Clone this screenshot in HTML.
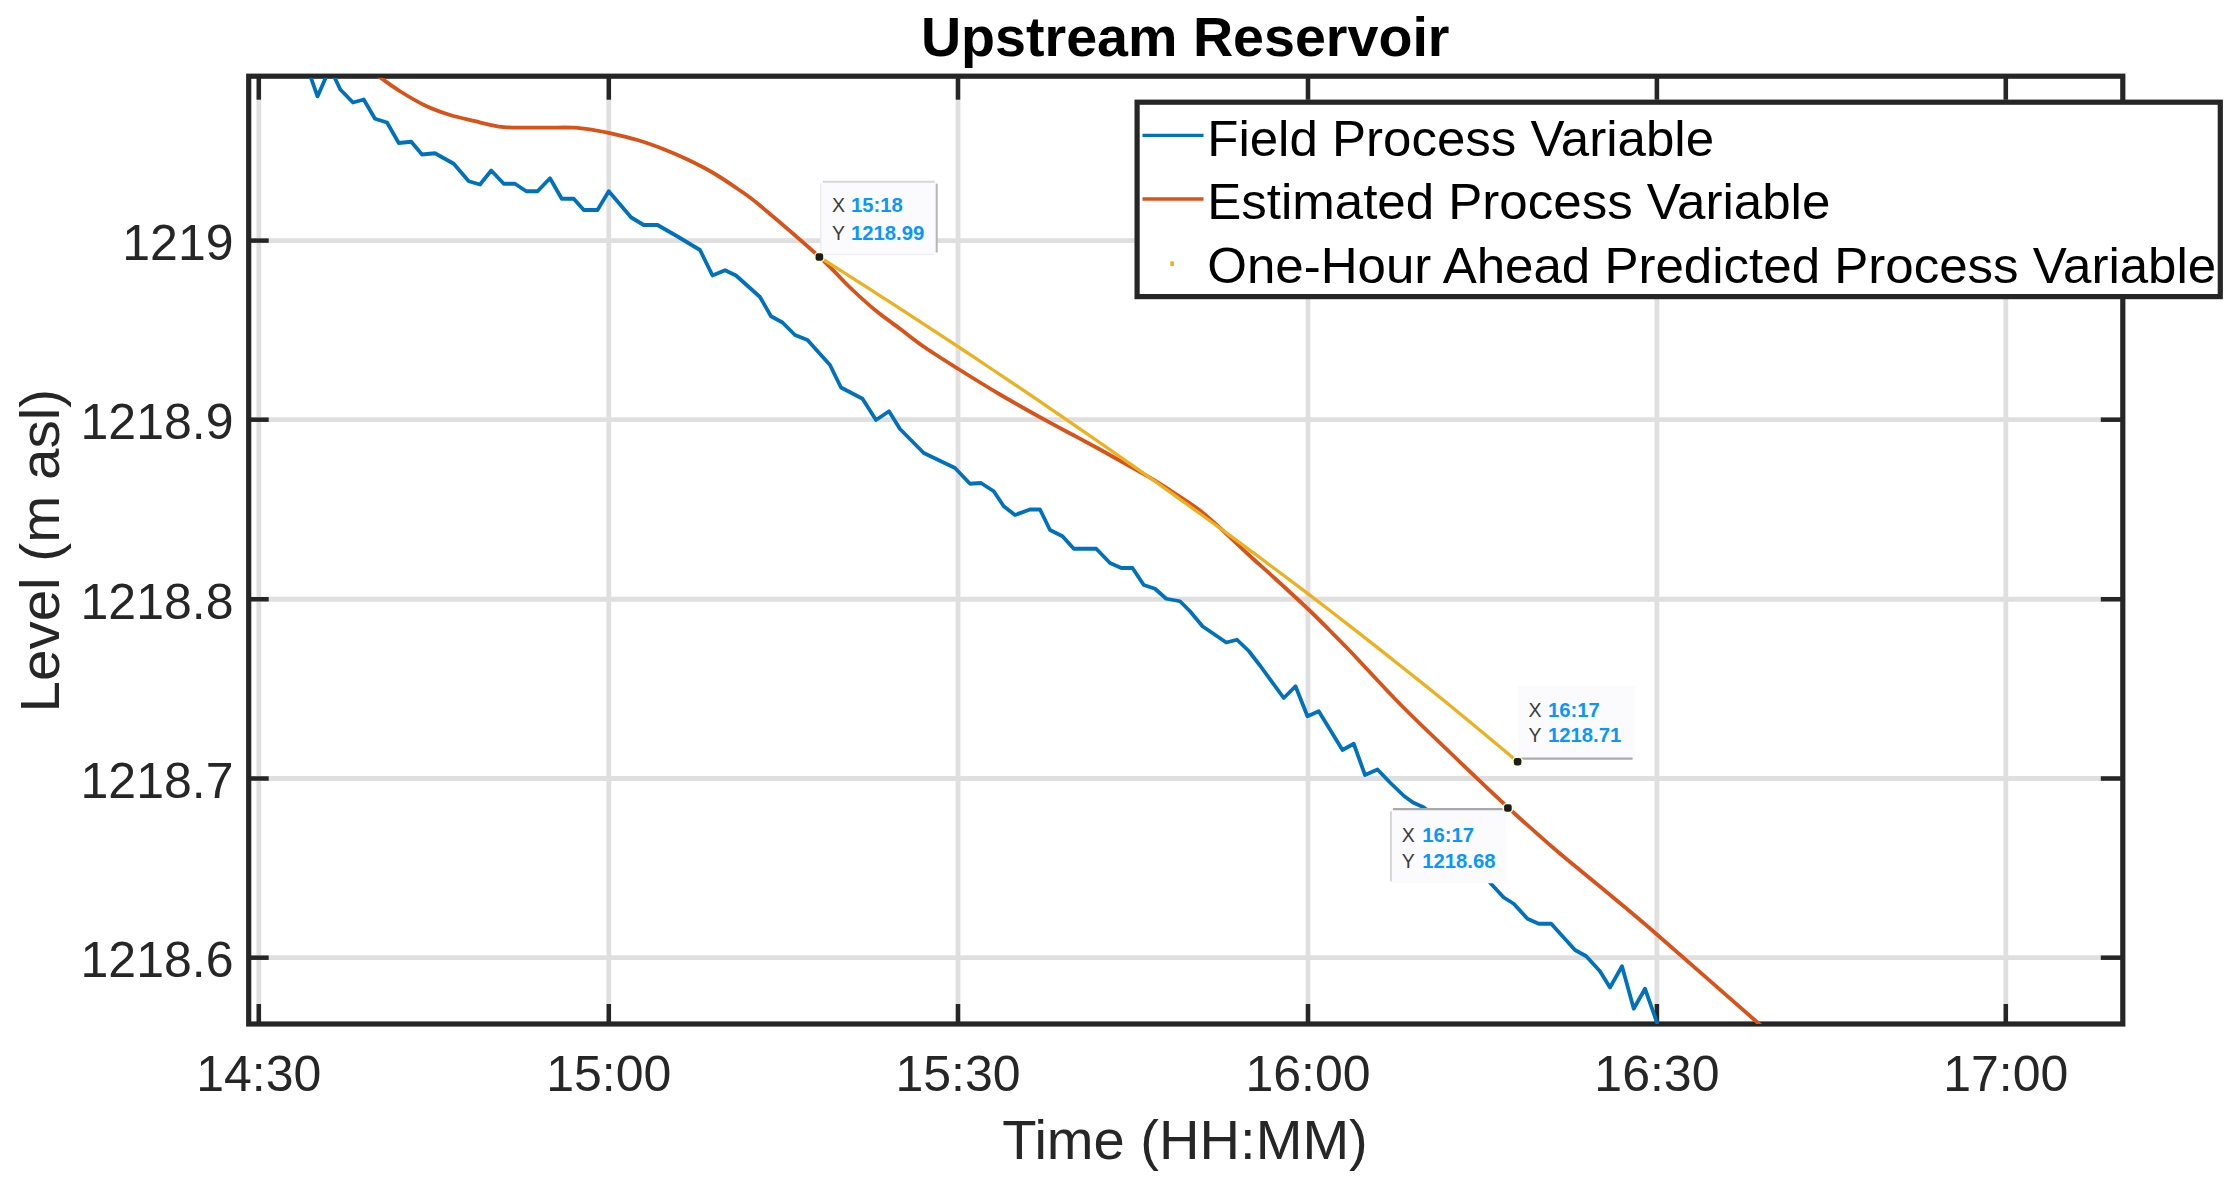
<!DOCTYPE html>
<html><head><meta charset="utf-8"><title>Upstream Reservoir</title>
<style>
html,body{margin:0;padding:0;background:#fff;overflow:hidden;}
svg{display:block;}
text{font-family:"Liberation Sans",Arial,Helvetica,sans-serif;}
.tk{font-size:50px;fill:#262626;}
.lb{font-size:55px;fill:#262626;}
.lg{font-size:50px;fill:#000;}
.tx{font-size:19.5px;fill:#3c3c3c;}
.tv{font-size:20.3px;fill:#0a96ff;font-weight:bold;}
</style></head><body>
<svg width="2240" height="1196" viewBox="0 0 2240 1196">
<rect width="2240" height="1196" fill="#fff"/>
<defs><clipPath id="ax"><rect x="248.7" y="77.8" width="1874.1" height="946.2"/></clipPath></defs>
<g stroke="#dfdfdf" stroke-width="4.8">
<line x1="258.8" y1="76.2" x2="258.8" y2="1024"/>
<line x1="608.8" y1="76.2" x2="608.8" y2="1024"/>
<line x1="958" y1="76.2" x2="958" y2="1024"/>
<line x1="1308" y1="76.2" x2="1308" y2="1024"/>
<line x1="1656.9" y1="76.2" x2="1656.9" y2="1024"/>
<line x1="2005.8" y1="76.2" x2="2005.8" y2="1024"/>
<line x1="248.7" y1="240.6" x2="2122.8" y2="240.6"/>
<line x1="248.7" y1="419.7" x2="2122.8" y2="419.7"/>
<line x1="248.7" y1="599.25" x2="2122.8" y2="599.25"/>
<line x1="248.7" y1="778.5" x2="2122.8" y2="778.5"/>
<line x1="248.7" y1="957.7" x2="2122.8" y2="957.7"/>
</g>
<g stroke="#262626" stroke-width="5.2" fill="none">
<rect x="248.7" y="76.2" width="1874.1" height="947.8"/>
</g><g stroke="#262626" stroke-width="4.5">
<line x1="258.8" y1="76.2" x2="258.8" y2="99.7"/>
<line x1="258.8" y1="1024" x2="258.8" y2="1004"/>
<line x1="608.8" y1="76.2" x2="608.8" y2="99.7"/>
<line x1="608.8" y1="1024" x2="608.8" y2="1004"/>
<line x1="958" y1="76.2" x2="958" y2="99.7"/>
<line x1="958" y1="1024" x2="958" y2="1004"/>
<line x1="1308" y1="76.2" x2="1308" y2="99.7"/>
<line x1="1308" y1="1024" x2="1308" y2="1004"/>
<line x1="1656.9" y1="76.2" x2="1656.9" y2="99.7"/>
<line x1="1656.9" y1="1024" x2="1656.9" y2="1004"/>
<line x1="2005.8" y1="76.2" x2="2005.8" y2="99.7"/>
<line x1="2005.8" y1="1024" x2="2005.8" y2="1004"/>
<line x1="248.7" y1="240.6" x2="268.7" y2="240.6"/>
<line x1="2122.8" y1="240.6" x2="2100.8" y2="240.6"/>
<line x1="248.7" y1="419.7" x2="268.7" y2="419.7"/>
<line x1="2122.8" y1="419.7" x2="2100.8" y2="419.7"/>
<line x1="248.7" y1="599.25" x2="268.7" y2="599.25"/>
<line x1="2122.8" y1="599.25" x2="2100.8" y2="599.25"/>
<line x1="248.7" y1="778.5" x2="268.7" y2="778.5"/>
<line x1="2122.8" y1="778.5" x2="2100.8" y2="778.5"/>
<line x1="248.7" y1="957.7" x2="268.7" y2="957.7"/>
<line x1="2122.8" y1="957.7" x2="2100.8" y2="957.7"/>
</g>
<g clip-path="url(#ax)" fill="none" stroke-linejoin="round" stroke-linecap="round">
<polyline stroke="#0072bd" stroke-width="3.8" points="308.2,70 317.5,96.4 326.5,76 330.5,68 334.7,77.6 340.3,89.5 353,102.5 363.75,99.5 375,118.75 387,122.5 398.75,143 411.25,141.75 422,154.5 435,153.25 453.75,163.75 468.75,181.25 480,184.5 491.25,170.5 503.75,183.75 515,183.75 526.25,191.25 537.5,191.25 550,178.25 561.75,198.75 573.75,198.75 583.75,210 597.5,210 608.75,191.25 631.25,217.5 643.75,225 657.5,225 675,235 700,250 712.5,275.5 725,270.25 736,275.5 760,297 771,316.25 782.5,322.5 795,335 807.5,340 830,365 841,387.5 862.5,398.75 876,420 889,411.25 900,429 923.75,453 955,468 970,483.75 981,483 993.75,491.25 1003.75,506.25 1015,515 1030,509.5 1040,509.5 1050,530 1062.5,536.25 1073.75,548.75 1096.25,548.75 1110,563 1121.25,568 1132.5,568 1143.75,585 1155,588.75 1166.25,598.75 1180,601.25 1190,611.25 1202.5,626.25 1226.25,642.5 1237,639.75 1248.75,651 1260,665.5 1283.75,698 1295.5,686.25 1307.5,716.25 1318.75,711.25 1342.5,750 1353.75,743.75 1365,775 1377.5,769.5 1390,782.5 1404,796 1413,802.5 1423.5,807.3 1438,819 1460,845 1480,870 1491.25,884 1503.75,897.5 1513.75,903.75 1527.5,918.75 1538.75,923.75 1551.25,923.75 1575,950 1586.25,956.25 1600,971.25 1610,987.5 1622,966.25 1633.75,1008.75 1645,988.75 1657,1022.5"/>
<path stroke="#d95319" stroke-width="3.8" d="M370.00,71.00 C371.67,72.08 375.00,74.12 380.00,77.50 C385.00,80.88 392.50,86.58 400.00,91.25 C407.50,95.92 416.67,101.54 425.00,105.50 C433.33,109.46 441.67,112.38 450.00,115.00 C458.33,117.62 468.33,119.57 475.00,121.20 C481.67,122.83 485.17,123.80 490.00,124.80 C494.83,125.80 498.17,126.72 504.00,127.20 C509.83,127.68 517.33,127.63 525.00,127.70 C532.67,127.77 541.83,127.60 550.00,127.60 C558.17,127.60 566.70,127.28 574.00,127.70 C581.30,128.12 588.03,129.25 593.80,130.10 C599.57,130.95 601.32,131.15 608.60,132.80 C615.88,134.45 628.52,137.34 637.50,140.00 C646.48,142.66 654.17,145.50 662.50,148.75 C670.83,152.00 679.17,155.54 687.50,159.50 C695.83,163.46 704.17,167.62 712.50,172.50 C720.83,177.38 729.58,183.25 737.50,188.75 C745.42,194.25 746.33,194.12 760.00,205.50 C773.67,216.88 804.50,243.33 819.50,257.00 C834.50,270.67 840.75,278.67 850.00,287.50 C859.25,296.33 866.67,303.12 875.00,310.00 C883.33,316.88 891.67,322.50 900.00,328.75 C908.33,335.00 915.33,340.83 925.00,347.50 C934.67,354.17 945.50,360.92 958.00,368.75 C970.50,376.58 984.67,385.51 1000.00,394.50 C1015.33,403.49 1037.50,415.78 1050.00,422.70 C1062.50,429.62 1066.67,431.53 1075.00,436.00 C1083.33,440.47 1091.67,444.92 1100.00,449.50 C1108.33,454.08 1116.67,458.80 1125.00,463.50 C1133.33,468.20 1141.67,472.70 1150.00,477.70 C1158.33,482.70 1166.67,488.03 1175.00,493.50 C1183.33,498.97 1191.67,504.00 1200.00,510.50 C1208.33,517.00 1216.67,524.92 1225.00,532.50 C1233.33,540.08 1241.67,548.33 1250.00,556.00 C1258.33,563.67 1265.33,569.67 1275.00,578.50 C1284.67,587.33 1298.95,600.42 1308.00,609.00 C1317.05,617.58 1322.30,623.00 1329.30,630.00 C1336.30,637.00 1338.22,638.67 1350.00,651.00 C1361.78,663.33 1383.33,687.08 1400.00,704.00 C1416.67,720.92 1432.00,735.25 1450.00,752.50 C1468.00,769.75 1491.33,792.08 1508.00,807.50 C1524.67,822.92 1538.83,835.25 1550.00,845.00 C1561.17,854.75 1564.17,857.00 1575.00,866.00 C1585.83,875.00 1601.25,887.50 1615.00,899.00 C1628.75,910.50 1633.75,914.42 1657.50,935.00 C1681.25,955.58 1739.58,1006.83 1757.50,1022.50 C1775.42,1038.17 1763.75,1027.92 1765.00,1029.00"/>
<path stroke="#edb120" stroke-width="3.3" d="M819.40,257.00 C823.42,259.55 835.47,267.18 843.50,272.30 C851.53,277.42 859.58,282.55 867.60,287.70 C875.62,292.85 883.58,298.00 891.60,303.20 C899.62,308.40 907.67,313.67 915.70,318.90 C923.73,324.13 931.77,329.33 939.80,334.60 C947.83,339.87 955.88,345.18 963.90,350.50 C971.92,355.82 979.88,361.15 987.90,366.50 C995.92,371.85 1003.97,377.20 1012.00,382.60 C1020.03,388.00 1028.07,393.45 1036.10,398.90 C1044.13,404.35 1052.18,409.82 1060.20,415.30 C1068.22,420.78 1076.18,426.27 1084.20,431.80 C1092.22,437.33 1100.27,442.90 1108.30,448.50 C1116.33,454.10 1124.37,459.75 1132.40,465.40 C1140.43,471.05 1148.48,476.70 1156.50,482.40 C1164.52,488.10 1172.48,493.83 1180.50,499.60 C1188.52,505.37 1196.57,511.17 1204.60,517.00 C1212.63,522.83 1220.67,528.72 1228.70,534.60 C1236.73,540.48 1244.78,546.35 1252.80,552.30 C1260.82,558.25 1268.78,564.28 1276.80,570.30 C1284.82,576.32 1292.87,582.32 1300.90,588.40 C1308.93,594.48 1316.97,600.63 1325.00,606.80 C1333.03,612.97 1341.08,619.18 1349.10,625.40 C1357.12,631.62 1365.08,637.80 1373.10,644.10 C1381.12,650.40 1389.17,656.82 1397.20,663.20 C1405.23,669.58 1413.27,675.97 1421.30,682.40 C1429.33,688.83 1437.38,695.27 1445.40,701.80 C1453.42,708.33 1461.38,714.98 1469.40,721.60 C1477.42,728.22 1485.47,734.82 1493.50,741.50 C1501.53,748.18 1513.58,758.33 1517.60,761.70"/>
</g>
<text class="tk" x="258.8" y="1091" text-anchor="middle">14:30</text>
<text class="tk" x="608.8" y="1091" text-anchor="middle">15:00</text>
<text class="tk" x="958" y="1091" text-anchor="middle">15:30</text>
<text class="tk" x="1308" y="1091" text-anchor="middle">16:00</text>
<text class="tk" x="1656.9" y="1091" text-anchor="middle">16:30</text>
<text class="tk" x="2005.8" y="1091" text-anchor="middle">17:00</text>
<text class="tk" x="233.5" y="260.2" text-anchor="end">1219</text>
<text class="tk" x="233.5" y="439.3" text-anchor="end">1218.9</text>
<text class="tk" x="233.5" y="618.85" text-anchor="end">1218.8</text>
<text class="tk" x="233.5" y="798.1" text-anchor="end">1218.7</text>
<text class="tk" x="233.5" y="977.3" text-anchor="end">1218.6</text>
<text transform="translate(1185.2,55.5) scale(1.0116,1)" text-anchor="middle" style="font-size:55px;font-weight:bold;fill:#000">Upstream Reservoir</text>
<text class="lb" transform="translate(1185,1158.7) scale(1.02,1)" text-anchor="middle">Time (HH:MM)</text>
<text class="lb" transform="translate(58.5,550.7) rotate(-90) scale(1.028,1)" text-anchor="middle">Level (m asl)</text>
<rect x="1137.1" y="102.2" width="1083.2" height="194.4" fill="#fff" stroke="#262626" stroke-width="5.2"/>
<line x1="1142.5" y1="135.4" x2="1203.5" y2="135.4" stroke="#0072bd" stroke-width="3.4"/>
<line x1="1142.5" y1="199" x2="1203.5" y2="199" stroke="#d95319" stroke-width="3.4"/>
<rect x="1170.3" y="261.3" width="3.6" height="4.8" fill="#edb120"/>
<text class="lg" transform="translate(1207.2,155.8) scale(1.021,1)">Field Process Variable</text>
<text class="lg" transform="translate(1207.2,219.4) scale(1.021,1)">Estimated Process Variable</text>
<text class="lg" transform="translate(1207.2,283) scale(1.021,1)">One-Hour Ahead Predicted Process Variable</text>
<rect x="820.9" y="181.7" width="115.8" height="72.7" fill="#fbfbfe"/>
<line x1="822.9" y1="181.7" x2="934.7" y2="181.7" stroke="#d6d6d8" stroke-width="2"/>
<line x1="936.7" y1="183.7" x2="936.7" y2="252.4" stroke="#b6b6b8" stroke-width="2"/>
<line x1="820.9" y1="183.7" x2="820.9" y2="252.4" stroke="#ececee" stroke-width="1.5"/>
<line x1="822.9" y1="254.4" x2="934.7" y2="254.4" stroke="#f0f0f2" stroke-width="1.5"/>
<circle cx="819.4" cy="257" r="5.6" fill="#ffffdc"/><rect x="815.6" y="253.2" width="7.6" height="7.6" rx="2.4" fill="#1c1c1c"/>
<text class="tx" x="831.9" y="212.2">X</text><text class="tv" x="851" y="212.2">15:18</text>
<text class="tx" x="831.9" y="240.2">Y</text><text class="tv" x="851" y="240.2">1218.99</text>
<rect x="1518" y="685.9" width="116.6" height="72.7" fill="#fbfbfe"/>
<line x1="1520" y1="758.6" x2="1632.6" y2="758.6" stroke="#ababab" stroke-width="2.4"/>
<circle cx="1517.6" cy="761.7" r="5.6" fill="#ffffdc"/><rect x="1513.8" y="757.9" width="7.6" height="7.6" rx="2.4" fill="#1c1c1c"/>
<text class="tx" x="1528.5" y="716.8">X</text><text class="tv" x="1548" y="716.8">16:17</text>
<text class="tx" x="1528.5" y="742.2">Y</text><text class="tv" x="1548" y="742.2">1218.71</text>
<rect x="1390.9" y="809.2" width="115.4" height="74" fill="#fbfbfe"/>
<line x1="1392.9" y1="809.2" x2="1504.3" y2="809.2" stroke="#a9a9a9" stroke-width="2.2"/>
<line x1="1390.9" y1="811.2" x2="1390.9" y2="881.2" stroke="#d2d2d4" stroke-width="1.8"/>
<circle cx="1507.9" cy="808" r="5.6" fill="#ffffdc"/><rect x="1504.1" y="804.2" width="7.6" height="7.6" rx="2.4" fill="#1c1c1c"/>
<text class="tx" x="1401.7" y="842.3">X</text><text class="tv" x="1422.2" y="842.3">16:17</text>
<text class="tx" x="1401.7" y="868">Y</text><text class="tv" x="1422.2" y="868">1218.68</text>
</svg></body></html>
